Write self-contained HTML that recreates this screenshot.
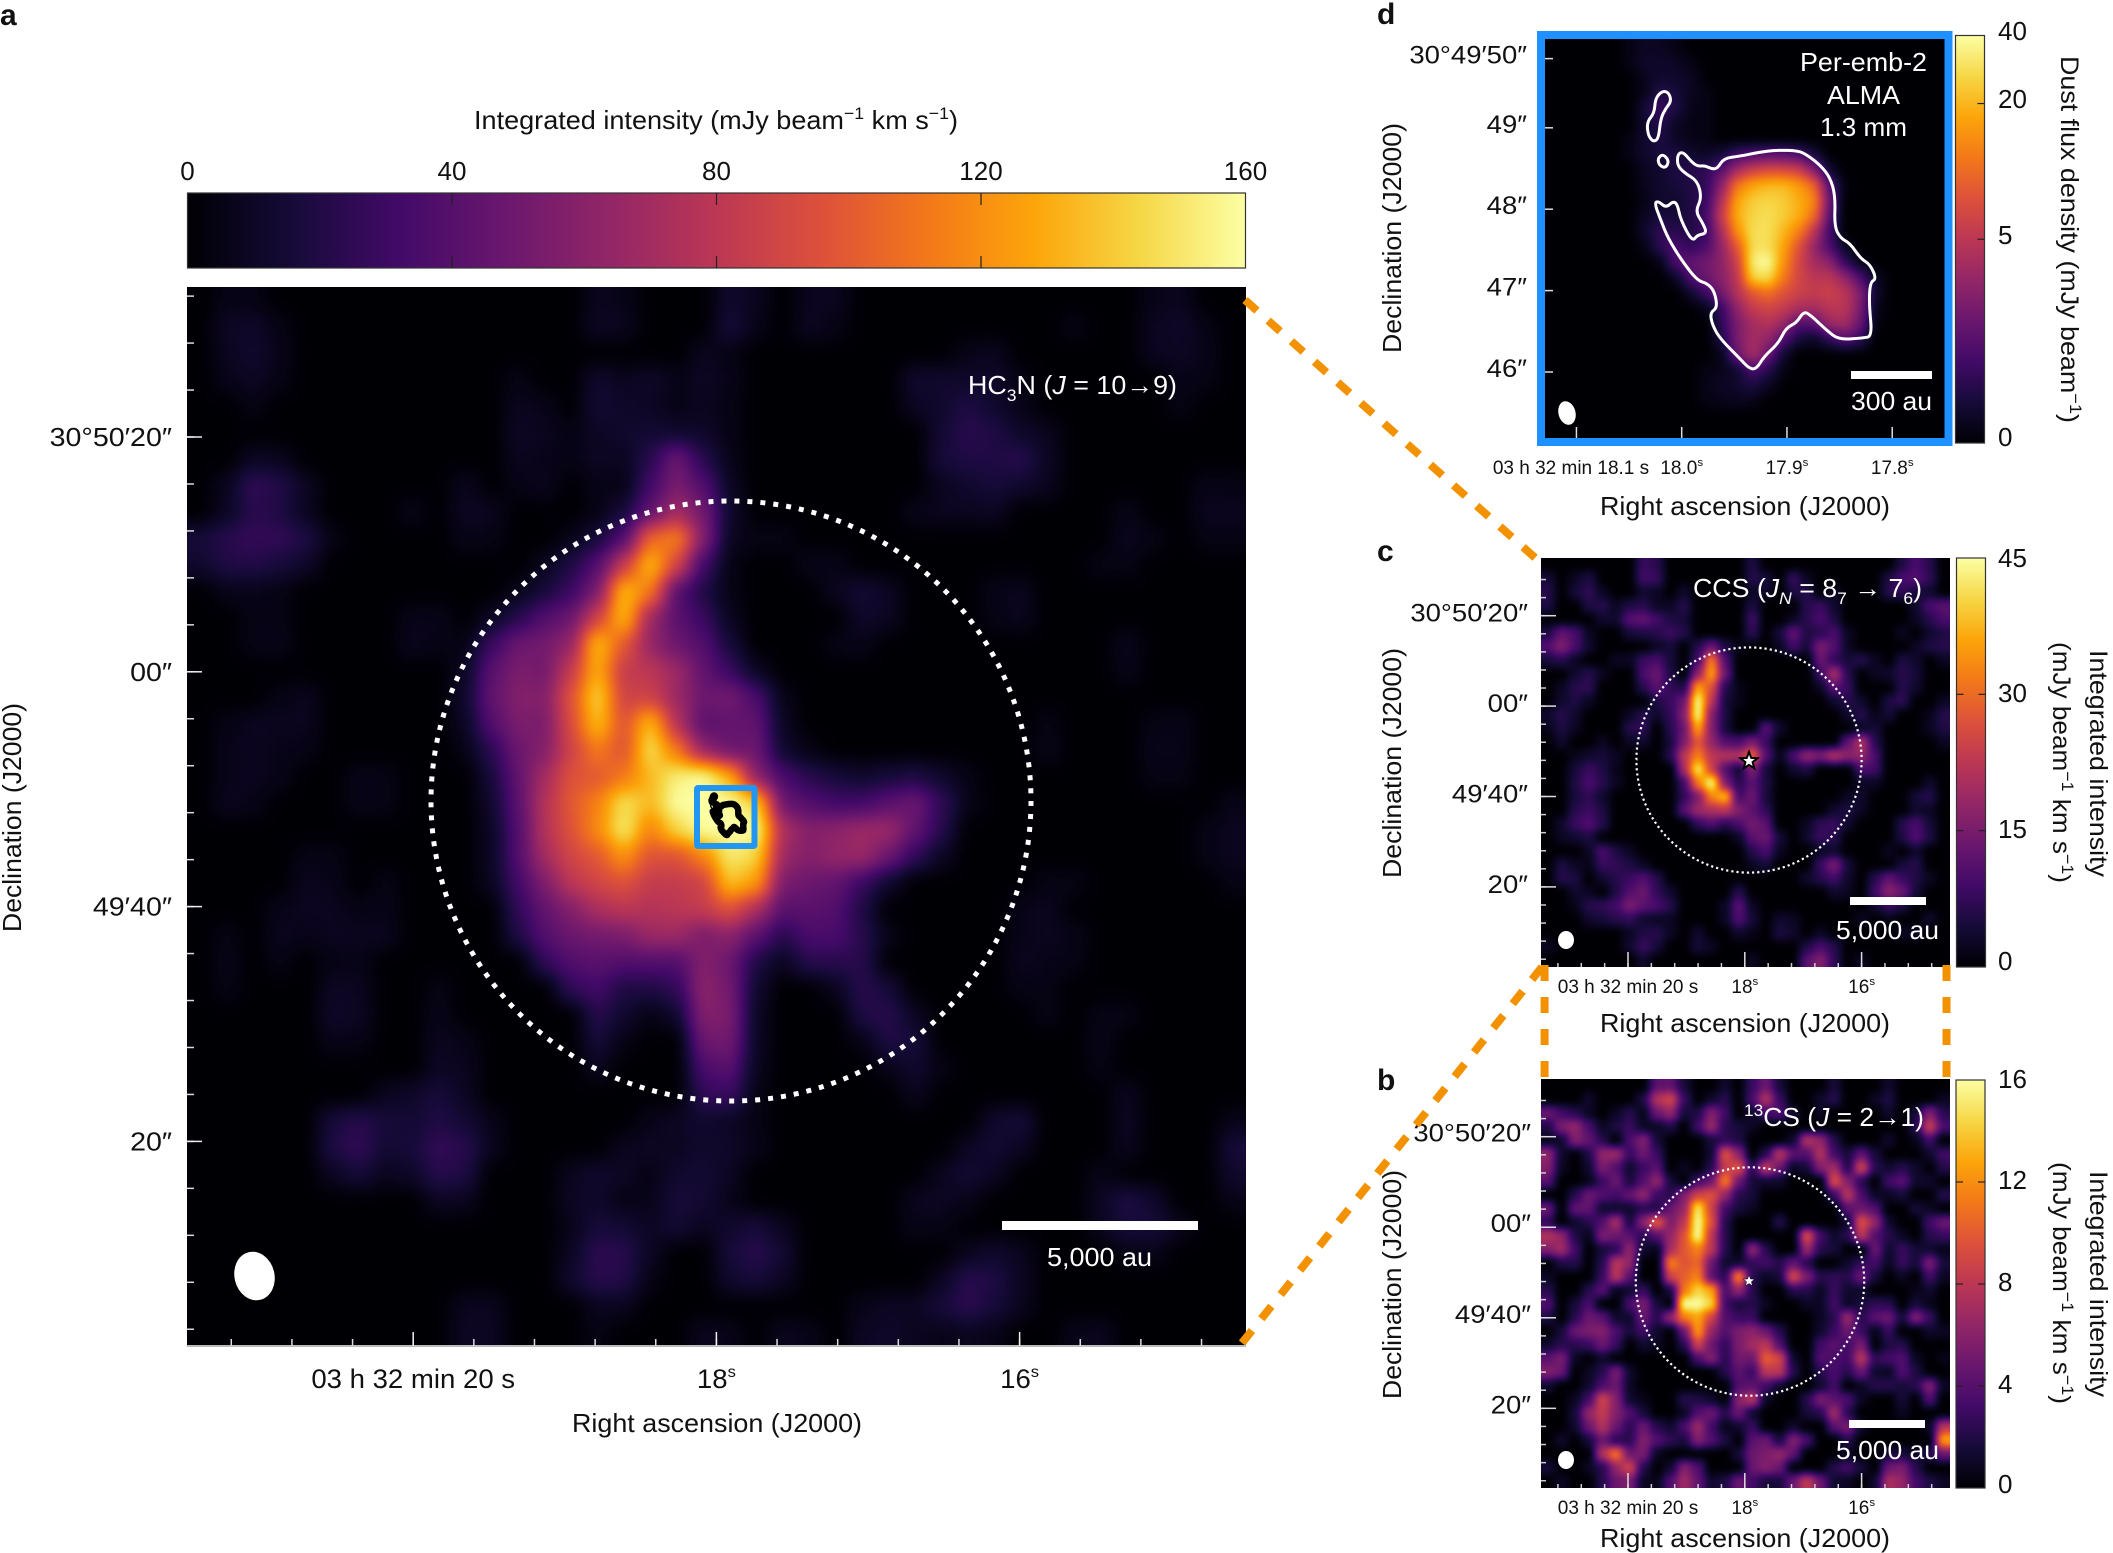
<!DOCTYPE html>
<html lang="en">
<head>
<meta charset="utf-8">
<title>Per-emb-2 molecular streamer maps</title>
<style>
html,body{margin:0;padding:0;background:#fff;}
svg{display:block;font-family:"Liberation Sans",sans-serif;}
text{fill:#111;}
.w{fill:#fff;}
.panel-letter{font-weight:bold;font-size:30px;}
</style>
</head>
<body>
<svg id="figure" width="2113" height="1553" viewBox="0 0 2113 1553">
<defs id="defs">
<clipPath id="clip-a"><rect x="187" y="287" width="1059" height="1059"/></clipPath>
<clipPath id="clip-b"><rect x="1541" y="1079" width="409" height="409"/></clipPath>
<clipPath id="clip-c"><rect x="1541" y="558" width="409" height="409"/></clipPath>
<clipPath id="clip-d"><rect x="1545" y="39" width="400" height="400"/></clipPath>
</defs>

<text class="panel-letter" x="0" y="25">a</text>
<text class="panel-letter" x="1377" y="24">d</text>
<text class="panel-letter" x="1377" y="561">c</text>
<text class="panel-letter" x="1377" y="1090">b</text>

<!-- heatmaps -->
<rect x="187" y="287" width="1059" height="1059" fill="#000004"/>
<rect x="1541" y="1079" width="409" height="409" fill="#000004"/>
<rect x="1541" y="558" width="409" height="409" fill="#000004"/>
<rect x="1545" y="39" width="400" height="400" fill="#000004"/>
<g clip-path="url(#clip-a)"><g id="heat-a"></g></g>
<g clip-path="url(#clip-b)"><g id="heat-b"></g></g>
<g clip-path="url(#clip-c)"><g id="heat-c"></g></g>
<g clip-path="url(#clip-d)"><g id="heat-d"></g></g>

<g id="overlays"></g>
<g id="axes"></g>

<!-- colorbar titles and axis titles -->
<text x="474" y="129" font-size="26" textLength="484" lengthAdjust="spacingAndGlyphs">Integrated intensity (mJy beam<tspan dy="-10" font-size="17">−1</tspan><tspan dy="10"> km s</tspan><tspan dy="-10" font-size="17">−1</tspan><tspan dy="10">)</tspan></text>
<text x="572" y="1432" font-size="26" textLength="290" lengthAdjust="spacingAndGlyphs">Right ascension (J2000)</text>
<text transform="translate(21,932) rotate(-90)" font-size="26" textLength="229" lengthAdjust="spacingAndGlyphs">Declination (J2000)</text>
<text x="1600" y="515" font-size="26" textLength="290" lengthAdjust="spacingAndGlyphs">Right ascension (J2000)</text>
<text transform="translate(1401,353) rotate(-90)" font-size="26" textLength="230" lengthAdjust="spacingAndGlyphs">Declination (J2000)</text>
<text x="1600" y="1032" font-size="26" textLength="290" lengthAdjust="spacingAndGlyphs">Right ascension (J2000)</text>
<text transform="translate(1401,878) rotate(-90)" font-size="26" textLength="230" lengthAdjust="spacingAndGlyphs">Declination (J2000)</text>
<text x="1600" y="1547" font-size="26" textLength="290" lengthAdjust="spacingAndGlyphs">Right ascension (J2000)</text>
<text transform="translate(1401,1399) rotate(-90)" font-size="26" textLength="229" lengthAdjust="spacingAndGlyphs">Declination (J2000)</text>
<text transform="translate(2061,56) rotate(90)" font-size="25" textLength="367" lengthAdjust="spacingAndGlyphs">Dust flux density (mJy beam<tspan dy="-9" font-size="17">−1</tspan><tspan dy="9">)</tspan></text>
<text transform="translate(2090,650) rotate(90)" font-size="25" textLength="227" lengthAdjust="spacingAndGlyphs">Integrated intensity</text>
<text transform="translate(2053,642) rotate(90)" font-size="25" textLength="241" lengthAdjust="spacingAndGlyphs">(mJy beam<tspan dy="-9" font-size="17">−1</tspan><tspan dy="9"> km s</tspan><tspan dy="-9" font-size="17">−1</tspan><tspan dy="9">)</tspan></text>
<text transform="translate(2090,1171) rotate(90)" font-size="25" textLength="226" lengthAdjust="spacingAndGlyphs">Integrated intensity</text>
<text transform="translate(2053,1162) rotate(90)" font-size="25" textLength="242" lengthAdjust="spacingAndGlyphs">(mJy beam<tspan dy="-9" font-size="17">−1</tspan><tspan dy="9"> km s</tspan><tspan dy="-9" font-size="17">−1</tspan><tspan dy="9">)</tspan></text>

<!-- annotations inside panels -->
<text class="w" x="968" y="394" font-size="26" textLength="209" lengthAdjust="spacingAndGlyphs">HC<tspan dy="7" font-size="17">3</tspan><tspan dy="-7">N (</tspan><tspan font-style="italic">J</tspan> = 10→9)</text>
<rect x="1002" y="1221" width="196" height="9" fill="#fff"/>
<text class="w" x="1047" y="1266" font-size="26" textLength="105" lengthAdjust="spacingAndGlyphs">5,000 au</text>
<ellipse cx="254.5" cy="1276" rx="20" ry="24.5" fill="#fff" transform="rotate(-14 254.5 1276)"/>

<text class="w" x="1800" y="71" font-size="26" textLength="127" lengthAdjust="spacingAndGlyphs">Per-emb-2</text>
<text class="w" x="1827" y="104" font-size="26" textLength="73" lengthAdjust="spacingAndGlyphs">ALMA</text>
<text class="w" x="1820" y="136" font-size="26" textLength="87" lengthAdjust="spacingAndGlyphs">1.3 mm</text>
<rect x="1851" y="371" width="81" height="8" fill="#fff"/>
<text class="w" x="1851" y="410" font-size="26" textLength="81" lengthAdjust="spacingAndGlyphs">300 au</text>
<ellipse cx="1567" cy="413" rx="8.5" ry="12" fill="#fff" transform="rotate(-15 1567 413)"/>

<text class="w" x="1693" y="597" font-size="26" textLength="229" lengthAdjust="spacingAndGlyphs">CCS (<tspan font-style="italic">J</tspan><tspan dy="7" font-size="17" font-style="italic">N</tspan><tspan dy="-7"> = 8</tspan><tspan dy="7" font-size="17">7</tspan><tspan dy="-7"> → 7</tspan><tspan dy="7" font-size="17">6</tspan><tspan dy="-7">)</tspan></text>
<rect x="1850" y="897" width="76" height="8" fill="#fff"/>
<text class="w" x="1836" y="939" font-size="26" textLength="103" lengthAdjust="spacingAndGlyphs">5,000 au</text>
<ellipse cx="1566" cy="940" rx="8" ry="9" fill="#fff"/>

<text class="w" x="1744" y="1126" font-size="26" textLength="180" lengthAdjust="spacingAndGlyphs"><tspan dy="-10" font-size="17">13</tspan><tspan dy="10">CS (</tspan><tspan font-style="italic">J</tspan> = 2→1)</text>
<rect x="1849" y="1420" width="76" height="8" fill="#fff"/>
<text class="w" x="1836" y="1459" font-size="26" textLength="103" lengthAdjust="spacingAndGlyphs">5,000 au</text>
<ellipse cx="1566" cy="1460" rx="8" ry="9" fill="#fff"/>

<!-- zoom connectors -->
<g stroke="#f39200" stroke-width="8" fill="none">
<line x1="1245" y1="300" x2="1541" y2="563" stroke-dasharray="16 15"/>
<line x1="1242" y1="1343" x2="1542" y2="967" stroke-dasharray="16 15"/>
<line x1="1544.6" y1="965" x2="1544.6" y2="1077" stroke-dasharray="16 16"/>
<line x1="1946.5" y1="965" x2="1946.5" y2="1077" stroke-dasharray="16 16"/>
</g>
</svg>

<script>
/* ---------- colour scale (inferno) ---------- */
const infernoR = [0, 22, 66, 106, 147, 188, 221, 243, 252, 246, 252];
const infernoG = [0, 11, 10, 23, 38, 55, 81, 120, 165, 215, 255];
const infernoB = [4, 57, 104, 110, 103, 84, 58, 25, 10, 70, 164];

/* ---------- heatmap levels: percent of each colour bar's full range ---------- */
const panelALevels = [
[0,3,3,0,0,0,0,0,0,0,0,0,0,0,0,5,4,0,0,0,8,5,0,5,5,0,0,0,0,0,0,0,0,0,0,0,4,5,0,0],
[0,6,7,3,0,0,0,0,0,0,0,0,0,0,0,6,5,0,0,0,10,4,0,6,3,0,0,0,0,0,0,0,0,3,0,0,5,7,3,0],
[0,5,8,4,0,0,0,0,0,0,0,0,0,0,0,0,0,0,0,5,3,0,0,0,0,0,0,0,0,4,5,0,0,0,0,0,5,6,4,0],
[0,4,6,3,0,0,0,0,0,0,0,0,3,0,0,8,5,7,4,6,4,0,0,0,0,0,0,8,8,7,7,3,0,0,0,0,0,4,3,0],
[0,0,3,0,0,0,0,0,0,0,0,0,5,4,0,9,7,6,3,5,3,0,0,0,0,0,0,6,8,12,8,4,0,0,0,0,0,3,0,0],
[0,0,0,0,0,0,0,0,0,0,0,0,6,5,3,6,8,9,8,7,3,0,0,0,0,0,0,0,9,14,12,7,5,0,0,0,0,0,0,0],
[0,0,6,5,0,0,0,0,0,0,0,0,5,4,3,6,5,14,30,14,4,0,0,0,0,0,0,0,10,12,12,14,6,0,0,0,0,0,0,0],
[0,5,16,13,6,0,0,0,0,0,5,0,3,5,0,4,3,20,34,24,6,0,0,0,0,0,0,0,5,8,10,8,5,0,0,0,0,0,4,3],
[0,6,14,12,5,0,0,0,4,0,6,5,0,0,0,3,10,28,44,32,8,0,0,0,0,0,0,4,5,5,6,0,0,0,0,4,0,0,5,5],
[10,14,17,16,12,3,0,0,0,0,4,3,0,0,4,10,24,66,72,36,5,3,3,0,0,0,0,0,0,0,0,0,0,0,0,5,3,0,3,3],
[8,12,13,10,7,0,0,0,0,0,0,0,0,5,12,24,52,85,56,20,3,0,0,4,4,0,0,0,0,0,0,0,0,0,3,3,0,0,0,0],
[0,4,4,3,0,0,0,0,0,0,0,0,4,10,18,34,85,70,25,12,3,0,0,0,5,9,6,0,0,0,4,5,0,0,0,0,0,0,0,0],
[0,0,3,3,0,0,0,0,4,4,0,6,14,24,30,55,85,42,26,18,5,0,0,0,0,7,6,0,0,0,3,5,0,0,0,0,0,0,0,0],
[0,0,3,4,0,0,0,0,5,3,3,18,30,32,40,85,62,40,30,24,10,0,0,0,3,4,0,0,0,0,0,0,0,0,0,5,0,0,0,0],
[0,0,0,0,0,0,0,0,0,0,6,26,34,32,52,82,52,50,42,28,18,6,0,0,0,0,0,0,0,0,0,0,0,0,0,4,0,0,0,0],
[0,0,0,3,5,0,0,0,0,0,8,28,36,36,60,90,55,55,42,30,32,22,4,0,0,0,0,0,0,0,0,0,0,0,0,0,0,0,0,0],
[0,3,5,5,5,0,0,0,0,0,6,24,34,34,58,85,60,85,48,26,28,28,6,0,0,0,0,0,0,0,0,0,3,0,0,0,3,4,0,0],
[0,4,5,4,3,0,0,0,0,0,3,15,30,36,55,70,60,92,70,40,30,30,8,3,0,0,0,0,0,0,0,0,4,0,0,0,4,4,0,0],
[0,4,5,4,0,0,4,3,0,0,0,10,28,44,60,62,70,84,96,100,82,38,22,14,10,8,10,12,8,3,0,0,0,0,0,0,3,3,0,0],
[0,5,4,0,0,0,4,3,0,0,0,8,26,48,62,72,92,84,100,100,100,90,30,24,20,20,26,30,16,4,0,0,0,0,0,0,0,0,0,4],
[0,0,0,0,0,0,0,0,0,0,0,6,24,48,60,74,95,72,90,100,100,100,46,36,38,42,42,28,14,0,0,0,0,0,0,0,0,0,3,5],
[0,0,0,0,3,3,0,0,0,0,0,6,24,44,56,62,76,60,60,72,95,90,42,36,40,42,30,16,6,0,0,0,0,0,0,0,0,0,3,5],
[0,0,0,0,5,4,0,3,0,0,0,5,20,35,50,56,60,52,52,55,86,78,34,30,28,18,8,0,0,0,0,0,3,3,0,0,0,0,0,3],
[0,0,0,4,5,5,3,4,0,0,0,0,16,28,36,46,50,48,50,52,60,46,26,26,24,12,0,0,0,0,0,4,5,0,0,0,0,0,0,0],
[0,3,0,5,4,5,5,5,0,0,0,0,12,24,30,32,34,42,42,34,38,26,14,22,22,14,4,0,0,0,0,4,5,4,0,0,0,0,0,0],
[0,4,0,3,0,3,4,0,0,0,0,0,0,16,24,26,24,24,24,36,30,12,5,14,14,14,0,0,0,0,0,5,4,3,0,0,0,0,0,0],
[0,3,0,0,0,6,5,0,0,3,0,0,0,0,16,20,12,12,16,38,32,8,0,0,5,14,10,0,0,0,0,3,3,0,0,0,0,0,0,0],
[0,0,0,0,0,7,6,0,0,4,0,0,0,0,0,14,8,3,8,36,34,6,0,0,0,12,14,6,0,0,0,0,3,0,3,3,0,0,0,0],
[0,0,0,0,0,4,3,0,0,5,4,0,0,0,0,10,3,0,0,30,32,6,0,0,0,3,12,10,0,0,0,0,0,0,4,0,0,0,0,0],
[0,0,0,0,0,0,0,0,0,6,5,0,0,0,0,5,0,0,0,22,26,5,0,0,0,0,4,8,3,0,0,0,0,0,3,0,0,0,0,0],
[0,0,0,0,0,0,0,5,7,10,6,0,0,0,0,0,0,0,0,16,18,3,0,0,0,0,0,5,0,0,0,0,0,0,0,5,0,0,0,0],
[0,0,0,0,0,10,14,10,9,12,9,4,0,0,0,0,0,4,6,8,6,3,0,0,0,0,0,0,0,0,8,10,0,0,0,6,0,0,0,4],
[0,0,0,0,0,12,16,9,10,16,14,5,0,0,0,0,5,6,5,8,7,4,0,0,0,0,0,0,0,6,9,6,0,0,0,5,0,0,0,10],
[0,0,0,0,0,6,10,5,7,14,12,0,0,0,5,8,6,3,8,9,6,0,0,0,0,0,0,0,5,9,6,0,0,0,4,0,0,0,0,8],
[0,0,0,0,0,0,0,0,0,6,5,0,0,0,6,7,3,4,10,9,4,0,0,0,0,0,0,5,6,4,0,0,0,0,6,12,8,0,0,4],
[0,0,0,0,0,0,0,0,0,0,0,0,0,0,4,10,9,6,9,5,8,10,5,0,0,0,0,4,3,0,0,0,0,0,5,10,10,5,0,0],
[0,0,0,0,0,0,0,0,0,0,0,0,0,0,6,15,14,6,0,0,10,14,9,0,0,0,0,0,0,5,8,5,0,0,0,3,4,0,0,0],
[0,0,0,0,0,0,0,0,0,0,0,0,0,0,8,14,13,3,0,0,8,10,6,0,0,0,0,0,6,14,12,6,0,0,0,0,0,0,0,0],
[0,0,0,0,0,0,0,0,0,0,5,5,0,0,0,5,5,0,0,0,0,0,0,0,0,4,6,6,10,15,10,5,0,0,0,0,0,0,0,0],
[0,0,0,0,0,0,0,0,0,0,6,6,0,0,0,3,0,0,0,5,4,0,5,4,0,6,7,5,4,5,4,0,0,4,5,0,0,0,0,0]
];

const panelCLevels = [
[0,0,0,0,0,0,0,18,14,0,0,0,0,0,0,12,0,0,0,0,0,0,0,0,0,0,12,22,14,0],
[10,0,6,12,0,0,0,20,18,0,0,0,0,0,0,14,10,0,18,6,0,0,0,0,0,12,22,24,16,0],
[14,0,10,16,6,0,0,8,6,0,8,0,0,0,0,6,8,0,12,14,0,6,0,0,0,14,16,10,8,0],
[12,0,0,12,14,6,12,14,6,6,14,0,0,0,0,12,0,0,0,14,18,8,0,0,0,0,0,8,22,26],
[0,0,0,0,8,8,25,28,20,12,10,0,0,0,0,20,0,0,6,14,22,12,0,0,0,0,0,6,14,22],
[12,28,22,6,0,0,10,12,14,18,14,0,0,0,0,16,0,10,28,12,14,22,6,0,0,0,6,0,8,12],
[24,36,22,8,0,0,0,0,6,10,0,14,30,12,4,0,0,6,20,10,34,24,6,0,0,0,0,6,12,14],
[10,14,6,0,0,6,6,18,22,10,0,20,72,24,0,0,0,0,0,0,30,16,10,14,6,0,12,8,0,6],
[0,0,8,14,6,0,0,22,30,12,0,38,80,30,0,0,0,0,0,0,18,46,14,0,6,8,14,10,0,0],
[0,6,14,16,0,0,0,14,26,16,12,80,60,14,4,0,0,0,0,0,6,26,18,0,0,0,14,8,0,0],
[0,8,12,6,0,0,0,0,12,18,30,100,50,10,4,0,0,0,0,0,0,8,14,8,0,12,16,0,0,6],
[8,14,8,0,0,0,6,14,8,16,36,100,36,12,0,0,0,0,0,0,0,0,8,14,4,10,0,0,4,14],
[4,12,6,0,0,0,14,16,0,14,30,80,36,10,0,0,26,8,0,0,0,0,0,6,10,0,0,0,6,12],
[0,8,0,0,6,0,6,8,0,10,34,62,40,24,22,34,18,0,0,0,0,0,28,48,14,0,0,0,0,6],
[0,0,4,8,10,6,0,0,0,14,50,72,50,48,48,65,25,4,22,40,34,48,38,40,22,0,0,0,0,0],
[0,0,10,18,12,4,0,0,0,0,45,95,55,24,8,36,10,0,8,12,0,0,0,22,20,0,0,0,0,0],
[0,0,12,22,14,6,0,0,0,0,20,70,100,34,14,26,12,0,0,0,0,0,0,6,6,0,0,0,8,0],
[0,0,10,16,8,0,0,0,0,0,16,34,72,85,20,30,10,0,0,0,0,0,6,8,0,0,0,10,14,0],
[0,0,14,18,12,0,0,0,0,0,26,42,46,50,36,26,16,0,0,0,0,8,12,6,0,0,0,8,6,0],
[0,8,18,24,14,0,0,0,0,0,0,16,24,14,22,32,26,0,0,6,16,18,8,0,0,0,14,22,10,0],
[0,6,8,12,0,0,0,0,0,0,0,0,0,0,6,26,30,10,0,8,18,14,0,0,0,0,12,24,12,0],
[0,0,0,6,22,12,6,0,0,0,0,0,0,0,0,14,22,6,0,0,6,8,0,0,0,6,0,8,0,0],
[0,12,6,4,18,16,12,6,0,0,0,0,0,0,0,6,10,0,0,0,18,34,10,0,0,0,10,14,0,0],
[0,14,12,0,8,14,18,24,14,0,0,0,0,0,0,0,0,0,0,8,14,20,8,0,14,28,18,12,6,0],
[0,0,8,6,0,12,24,30,16,8,0,0,0,0,14,0,0,0,0,0,0,8,6,0,20,38,30,10,0,0],
[0,0,4,14,16,20,34,26,22,14,0,0,0,6,26,6,0,0,0,0,0,0,0,0,8,18,12,0,0,0],
[0,0,0,8,10,14,16,8,6,6,0,0,0,6,24,10,0,8,6,0,0,0,0,6,0,4,0,0,8,0],
[0,0,0,0,0,0,6,12,14,6,0,8,0,0,8,4,0,12,8,0,6,0,0,0,0,0,6,6,0,0],
[6,0,0,0,0,0,8,18,10,0,0,10,6,0,0,0,0,0,0,12,22,14,0,0,0,0,0,0,0,0],
[0,0,0,0,0,0,0,8,0,0,0,0,0,0,0,6,0,0,0,26,36,16,0,6,0,0,0,0,0,0]
];

const panelBLevels = [
[0,0,0,0,0,0,0,0,26,28,10,0,0,8,0,18,30,10,0,0,0,10,0,0,0,8,0,0,0,0],
[0,0,0,8,0,0,0,12,48,56,18,0,8,14,0,22,48,18,0,0,8,14,0,0,6,12,0,0,0,6],
[30,20,14,6,0,6,14,4,30,40,10,12,36,20,0,8,20,24,8,0,6,0,0,0,0,8,0,10,36,14],
[12,34,40,22,6,12,18,6,6,12,0,20,42,14,10,6,0,0,0,0,0,0,0,0,0,0,0,14,54,22],
[4,8,36,28,14,0,22,36,10,0,0,0,10,16,12,0,0,0,8,48,40,14,0,0,0,8,0,4,20,0],
[40,8,0,12,40,42,18,30,18,0,0,0,8,60,38,0,14,50,26,24,48,20,10,28,10,0,0,0,8,20],
[36,6,0,8,34,24,8,18,26,0,6,0,14,52,60,14,52,30,6,10,36,44,12,56,14,8,14,8,0,14],
[26,0,0,4,18,30,10,24,40,10,0,20,30,72,30,10,8,8,0,0,0,60,36,14,0,20,26,8,8,0],
[0,0,14,30,24,20,28,40,18,14,36,55,60,40,14,10,0,0,0,0,0,18,50,22,6,6,10,0,0,14],
[30,0,28,28,8,8,8,14,12,30,40,95,55,20,10,6,0,0,0,0,0,0,26,30,24,0,0,10,6,0],
[16,0,8,14,24,46,10,38,64,34,50,100,60,14,0,0,0,14,0,0,0,0,8,60,40,8,0,0,20,30],
[48,40,12,4,34,30,26,14,24,40,60,100,50,14,0,0,0,0,0,60,20,8,14,50,24,14,6,0,14,18],
[36,44,20,0,10,14,40,8,4,45,62,72,50,14,0,40,14,0,0,42,14,10,0,0,30,8,18,10,8,4],
[0,12,14,0,14,50,40,0,0,72,60,66,30,8,8,16,20,14,28,14,0,0,8,16,20,6,18,10,34,10],
[6,0,0,0,18,50,26,0,0,55,64,72,26,14,75,14,6,10,58,34,14,16,14,30,10,0,6,0,20,6],
[14,0,0,14,26,4,8,18,0,10,70,90,80,22,40,14,0,0,14,14,6,18,8,8,0,0,0,4,8,0],
[24,0,10,22,0,0,22,34,10,0,100,100,90,20,10,14,6,0,0,6,6,20,6,10,16,14,0,10,4,0],
[12,0,14,30,26,8,8,30,14,40,70,80,55,24,18,18,0,0,0,0,6,14,42,14,26,30,10,36,18,0],
[0,10,30,34,36,22,10,20,8,0,30,78,40,24,34,38,30,14,0,0,8,18,30,18,4,18,0,0,8,6],
[8,14,14,18,30,18,0,8,6,0,14,55,30,16,34,44,50,24,0,0,20,26,20,34,0,12,14,0,0,0],
[26,34,6,0,8,0,0,0,0,0,0,22,36,14,32,30,64,56,8,0,24,22,20,50,16,20,24,6,0,4],
[36,30,0,6,14,34,8,0,0,0,0,0,0,14,26,18,50,50,14,0,14,22,14,30,8,6,24,12,0,0],
[8,0,0,8,22,30,6,0,0,0,0,0,0,0,24,26,20,8,0,0,8,20,0,6,14,14,10,14,36,6],
[0,0,6,20,56,36,8,4,0,0,14,12,8,0,38,50,6,0,0,14,34,26,22,6,0,0,10,0,24,0],
[0,0,10,40,52,36,24,10,0,0,6,24,30,14,30,8,0,0,0,10,14,44,14,0,0,0,6,0,0,0],
[0,0,8,30,48,30,14,30,14,8,22,42,20,4,8,18,0,0,8,0,0,26,34,8,0,0,0,0,6,50],
[0,8,0,10,30,14,14,36,24,16,10,36,24,12,0,26,30,10,36,22,0,0,14,0,0,0,0,0,0,80],
[0,0,0,0,48,70,30,34,6,0,0,0,0,0,10,30,34,40,28,0,0,0,6,0,0,10,10,6,14,30],
[10,0,0,6,14,40,56,14,0,8,36,24,0,0,0,30,36,30,0,0,0,14,20,10,0,30,34,14,0,0],
[0,6,0,0,14,30,34,6,4,24,44,28,8,12,30,20,10,10,30,52,30,8,6,0,8,46,40,20,12,6]
];

const panelDLevels = [
[0,0,0,0,0,3,6,5,3,0,0,0,0,0,0,0,0,0,0,0,0,0,0,0,0,0],
[0,0,0,0,0,3,7,7,6,3,0,0,0,0,0,0,0,0,0,0,0,0,0,0,0,0],
[0,0,0,0,0,0,5,8,8,6,0,0,0,0,0,0,0,0,0,0,0,0,0,0,0,0],
[0,0,0,0,0,0,4,14,10,5,3,0,0,0,0,0,0,0,0,0,0,0,0,0,0,0],
[0,0,0,0,0,0,10,18,12,4,3,0,0,0,0,0,0,0,0,0,0,0,0,0,0,0],
[0,0,0,0,0,0,8,14,6,3,3,0,0,0,0,0,0,0,0,0,0,0,0,0,0,0],
[0,0,0,0,0,3,8,12,6,4,3,0,0,0,0,0,0,0,0,0,0,0,0,0,0,0],
[0,0,0,0,0,3,8,10,12,8,6,10,20,24,26,26,22,10,0,0,0,0,0,0,0,0],
[0,0,0,0,0,0,6,8,12,14,16,26,44,54,58,58,54,36,8,0,0,0,0,0,0,0],
[0,0,0,0,0,0,5,8,10,12,16,38,70,80,84,84,78,66,24,2,0,0,0,0,0,0],
[0,0,0,0,0,0,3,8,8,12,18,48,80,88,90,88,82,74,30,0,0,0,0,0,0,0],
[0,0,0,0,0,0,6,10,10,12,20,54,82,90,92,88,82,68,26,0,0,0,0,0,0,0],
[0,0,0,0,0,0,8,16,14,12,18,46,76,92,92,84,72,50,20,0,0,0,0,0,0,0],
[0,0,0,0,0,0,3,16,22,16,22,40,62,92,92,80,60,40,22,6,0,0,0,0,0,0],
[0,0,0,0,0,0,0,3,24,28,32,38,54,96,100,76,56,44,38,16,4,0,0,0,0,0],
[0,0,0,0,0,0,0,0,6,24,30,38,50,90,92,70,56,50,50,40,22,6,0,0,0,0],
[0,0,0,0,0,0,0,0,0,8,20,32,48,62,68,60,54,52,54,50,36,8,0,0,0,0],
[0,0,0,0,0,0,0,0,0,0,4,18,40,52,56,52,46,44,50,50,34,4,0,0,0,0],
[0,0,0,0,0,0,0,0,0,0,0,16,34,44,48,42,24,26,42,44,30,2,0,0,0,0],
[0,0,0,0,0,0,0,0,0,0,0,12,34,44,40,24,10,6,16,26,16,0,0,0,0,0],
[0,0,0,0,0,0,0,0,0,0,0,4,30,46,30,8,0,0,0,0,0,0,0,0,0,0],
[0,0,0,0,0,0,0,0,0,0,3,4,8,22,14,3,0,0,0,0,0,0,0,0,0,0],
[0,0,0,0,0,0,0,0,0,0,4,6,8,12,6,0,0,0,0,0,0,0,0,0,0,0],
[0,0,0,0,0,0,0,0,0,0,3,4,5,4,0,0,0,0,0,0,0,0,0,0,0,0],
[0,0,0,0,0,0,0,0,0,0,0,0,0,0,0,0,0,0,0,0,0,0,0,0,0,0],
[0,0,0,0,0,0,0,0,0,0,0,0,0,0,0,0,0,0,0,0,0,0,0,0,0,0]
];

/* ---------- dust continuum contours (RA seconds past 03 h 32 min, Dec arcsec past 30°49′) ---------- */
const contourMainRA = [18.001,17.997,17.991,17.985,17.978,17.971,17.966,17.960,17.945,17.926,17.910,17.889,17.880,17.868,17.859,17.854,17.855,17.849,17.840,17.830,17.821,17.815,17.821,17.822,17.819,17.828,17.851,17.863,17.880,17.885,17.891,17.901,17.908,17.922,17.929,17.936,17.945,17.964,17.971,17.973,17.966,17.969,17.976,17.985,17.999,18.013,18.020,18.026,18.022,18.015,18.008,18.004,18.001,17.990,17.985,17.976,17.980,17.987,17.981,17.985,17.997,18.004,18.004];
const contourMainDec = [48.70,48.68,48.585,48.527,48.535,48.493,48.502,48.626,48.651,48.701,48.726,48.718,48.659,48.535,48.390,48.161,47.787,47.642,47.580,47.393,47.322,47.144,47.102,46.832,46.438,46.417,46.396,46.521,46.728,46.728,46.604,46.541,46.354,46.188,46.035,46.043,46.168,46.417,46.583,46.728,46.791,46.998,47.090,47.123,47.351,47.642,47.870,48.078,48.099,48.016,48.099,48.057,47.870,47.600,47.684,47.704,47.829,47.974,48.140,48.348,48.443,48.535,48.659];
const contourLobe1RA = [18.018,18.012,18.010,18.015,18.020,18.022,18.027,18.032,18.033,18.026,18.025];
const contourLobe1Dec = [49.457,49.428,49.324,49.241,49.116,48.867,48.826,48.909,49.075,49.179,49.365];
const contourLobe2RA = [18.018,18.012,18.015,18.021,18.023];
const contourLobe2Dec = [48.680,48.597,48.506,48.535,48.618];

/* ---------- tick values and labels ---------- */
const wideDecTicks = [80, 60, 40, 20];
const wideDecLabels = ['30°50′20″', '00″', '49′40″', '20″'];
const wideRaTicks = [20, 18, 16];
const wideRaLabels = ['03 h 32 min 20 s', '18', '16'];
const dDecTicks = [49.85, 49, 48, 47, 46];
const dDecLabels = ['30°49′50″', '49″', '48″', '47″', '46″'];
const dRaTicks = [18.1, 18.0, 17.9, 17.8];
const dRaLabels = ['03 h 32 min 18.1 s', '18.0', '17.9', '17.8'];
const barATicks = [0, 40, 80, 120, 160];
const barBTicks = [16, 12, 8, 4, 0];
const barCTicks = [45, 30, 15, 0];
const barDTicks = [40, 20, 5, 0];
const barDPositions = [1, 0.833, 0.5, 0];

/* ---------- helpers ---------- */
const NS = document.documentElement.namespaceURI.replace('1999/xhtml', '2000/svg');
const svg = document.getElementById('figure');
const defs = document.getElementById('defs');
const axes = document.getElementById('axes');
const overlays = document.getElementById('overlays');

function make(tag, parent) {
  const el = document.createElementNS(NS, tag);
  parent.appendChild(el);
  return el;
}
function setAll(el, pairs) {
  for (const k in pairs) el.setAttribute(k, pairs[k]);
}

function addFilter(id, sigma, x, y, w, h) {
  const table = a => a.map(v => (v / 255).toFixed(3)).join(' ');
  const f = make('filter', defs);
  setAll(f, {id: id, filterUnits: 'userSpaceOnUse', x: x - 40, y: y - 40, width: w + 80, height: h + 80, 'color-interpolation-filters': 'sRGB'});
  f.innerHTML = '<feGaussianBlur stdDeviation="' + sigma + '"/><feComponentTransfer>' +
    '<feFuncR type="table" tableValues="' + table(infernoR) + '"/>' +
    '<feFuncG type="table" tableValues="' + table(infernoG) + '"/>' +
    '<feFuncB type="table" tableValues="' + table(infernoB) + '"/></feComponentTransfer>';
}

function drawHeat(id, levels, x0, y0, w, h, sigma) {
  const g = document.getElementById(id);
  addFilter(id + '-f', sigma, x0, y0, w, h);
  g.setAttribute('filter', 'url(#' + id + '-f)');
  const rows = levels.length, cols = levels[0].length;
  const cx = w / cols, cy = h / rows, pad = 40;
  levels.forEach((row, r) => {
    row.forEach((v, c) => {
      const rect = make('rect', g);
      
      
      const gray = Math.round(Math.min(100, Math.max(0, v)) * 2.55);
      const left = x0 + c * cx - (c === 0 ? pad : 0);
      const top = y0 + r * cy - (r === 0 ? pad : 0);
      const right = x0 + (c + 1) * cx + (c === cols - 1 ? pad : 0.5);
      const bottom = y0 + (r + 1) * cy + (r === rows - 1 ? pad : 0.5);
      setAll(rect, {x: left, y: top, width: right - left, height: bottom - top, fill: 'rgb(' + gray + ',' + gray + ',' + gray + ')'});
    });
  });
}

function addLine(x1, y1, x2, y2, color, width) {
  const l = make('line', axes);
  
  
  setAll(l, {x1: x1, y1: y1, x2: x2, y2: y2, stroke: color, 'stroke-width': width});
}

function addText(str, x, y, anchor, size, sup, stretch) {
  const t = make('text', axes);
  
  
  setAll(t, {x: x, y: y, 'text-anchor': anchor, 'font-size': size});
  t.textContent = str;
  if (sup) {
    const s = make('tspan', t);
    setAll(s, {dy: -size * 0.42, 'font-size': size * 0.6});
    s.textContent = sup;
  }
  if (stretch) {
    const len = t.getComputedTextLength() * stretch;
    setAll(t, {textLength: len, lengthAdjust: 'spacingAndGlyphs'});
  }
  return t;
}

function step(a, b, d) { const o = []; for (let v = a; v <= b + 1e-6; v += d) o.push(v); return o; }

/* ---------- axis functions ---------- */
const xA = ra => 716.4 + (18 - ra) * 151.6;
const yA = d => 437 + (80 - d) * 11.74;
const xS = ra => 1744.8 + (18 - ra) * 58.4;
const yC = d => 615.7 + (80 - d) * 4.52;
const yB = d => 1136.7 + (80 - d) * 4.527;
const xD = ra => 1681.7 + (18 - ra) * 1052.6;
const yD = d => 127.8 + (49 - d) * 81.4;

/* ---------- heatmaps ---------- */
drawHeat('heat-a', panelALevels, 187, 287, 1059, 1059, 9.5);
drawHeat('heat-c', panelCLevels, 1541, 558, 409, 409, 4.5);
drawHeat('heat-b', panelBLevels, 1541, 1079, 409, 409, 4.2);
drawHeat('heat-d', panelDLevels, 1545, 39, 400, 400, 6);

/* ---------- panel a ticks ---------- */
addLine(187, 1346, 1246, 1346, '#bbb', 2);
step(4, 92, 4).forEach(d => addLine(187, yA(d), 194, yA(d), '#ddd', 1.5));
wideDecTicks.forEach((d, i) => {
  addLine(187, yA(d), 202, yA(d), '#eee', 1.5);
  addText(wideDecLabels[i], 172, yA(d) + 9, 'end', 26, null, 1.1);
});
step(14.8, 21.2, 0.4).forEach(r => addLine(xA(r), 1346, xA(r), 1339, '#ddd', 1.5));
wideRaTicks.forEach((r, i) => {
  addLine(xA(r), 1346, xA(r), 1332, '#eee', 1.5);
  addText(wideRaLabels[i], xA(r), 1388, 'middle', 26.5, i ? 's' : null, 1.04);
});

/* ---------- panels b and c ticks ---------- */
function smallPanel(yFn, bottom, labelRight, labelOffset, xLabelY) {
  step(4, 88, 4).forEach(d => addLine(1541, yFn(d), 1546, yFn(d), '#ccc', 1.5));
  wideDecTicks.forEach((d, i) => {
    addLine(1541, yFn(d), 1556, yFn(d), '#ddd', 1.5);
    addText(wideDecLabels[i], labelRight, yFn(d) + labelOffset, 'end', 25, null, 1.1);
  });
  step(14.8, 21.2, 0.4).forEach(r => addLine(xS(r), bottom, xS(r), bottom - 4, '#ccc', 1.5));
  wideRaTicks.forEach((r, i) => {
    addLine(xS(r), bottom, xS(r), bottom - 15, '#ddd', 1.5);
    addText(wideRaLabels[i], xS(r), xLabelY, 'middle', 19, i ? 's' : null);
  });
}
smallPanel(yC, 967, 1528, 6, 993);
smallPanel(yB, 1488, 1531, 5, 1514);

/* ---------- panel d ticks ---------- */
dDecTicks.forEach((d, i) => {
  addLine(1545, yD(d), 1553, yD(d), '#ddd', 1.5);
  addText(dDecLabels[i], 1527, yD(d) + 5, 'end', 25, null, 1.1);
});
dRaTicks.forEach((r, i) => {
  addLine(xD(r), 438, xD(r), 427, '#ddd', 1.5);
  addText(dRaLabels[i], i ? xD(r) : 1571, 474, 'middle', 19, i ? 's' : null);
});

/* ---------- overlays: circles, contours, box, stars ---------- */
function circle(name, cx, cy, r, w, dash) {
  const c = make('circle', overlays);
  
  
  setAll(c, {cx: cx, cy: cy, r: r, fill: 'none', stroke: '#fff', 'stroke-width': w, 'stroke-dasharray': dash});
}
circle('panel-a-field-of-view', 731, 801, 300, 5, '5 8');
circle('panel-c-field-of-view', 1749, 760, 112.6, 2.2, '2.2 3');
circle('panel-b-field-of-view', 1750, 1281.5, 114.2, 2.2, '2.2 3');

function smoothClosed(ra, dec, fx, fy) {
  const pts = ra.map((r, i) => [fx(r), fy(dec[i])]);
  const n = pts.length;
  const mid = (p, q) => [(p[0] + q[0]) / 2, (p[1] + q[1]) / 2];
  let m = mid(pts[n - 1], pts[0]);
  let d = 'M' + m[0].toFixed(2) + ' ' + m[1].toFixed(2);
  for (let i = 0; i < n; i++) {
    m = mid(pts[i], pts[(i + 1) % n]);
    d += 'Q' + pts[i][0].toFixed(2) + ' ' + pts[i][1].toFixed(2) + ' ' + m[0].toFixed(2) + ' ' + m[1].toFixed(2);
  }
  return d + 'Z';
}
const contours = [[contourMainRA, contourMainDec], [contourLobe1RA, contourLobe1Dec], [contourLobe2RA, contourLobe2Dec]];
const boxScale = 57 / 400;
const xBox = ra => 697 + (xD(ra) - 1545) * boxScale;
const yBox = d => 788 + (yD(d) - 39) * boxScale;
contours.forEach(c => {
  const p = make('path', overlays);
  
  
  setAll(p, {d: smoothClosed(c[0], c[1], xD, yD), fill: 'none', stroke: '#fff', 'stroke-width': 3, 'stroke-linejoin': 'round'});
  const q = make('path', overlays);
  
  
  setAll(q, {d: smoothClosed(c[0], c[1], xBox, yBox), fill: 'none', stroke: '#000', 'stroke-width': 6.5, 'stroke-linejoin': 'round'});
});

const boxA = make('rect', overlays);


setAll(boxA, {x: 697, y: 788, width: 57.5, height: 58, fill: 'none', stroke: '#2196f3', 'stroke-width': 6, rx: 1});
const boxD = make('rect', overlays);


setAll(boxD, {x: 1541, y: 35, width: 407.5, height: 407, fill: 'none', stroke: '#1e90ff', 'stroke-width': 8});

function star(name, cx, cy, R, sw) {
  let d = '';
  for (let i = 0; i < 10; i++) {
    const rad = i % 2 ? R * 0.42 : R;
    const a = -Math.PI / 2 + i * Math.PI / 5;
    d += (i ? 'L' : 'M') + (cx + rad * Math.cos(a)).toFixed(2) + ' ' + (cy + rad * Math.sin(a)).toFixed(2);
  }
  const s = make('path', overlays);
  
  
  setAll(s, {d: d + 'Z', fill: '#fff', stroke: '#000', 'stroke-width': sw, 'stroke-linejoin': 'miter'});
}
star('panel-c-protostar', 1749, 761, 9, 2);
star('panel-b-protostar', 1749, 1281, 6, 0.5);

/* ---------- colour bars ---------- */
function gradient(id, x1, y1, x2, y2) {
  const g = make('linearGradient', defs);
  setAll(g, {id: id, x1: x1, y1: y1, x2: x2, y2: y2});
  infernoR.forEach((r, i) => {
    const s = make('stop', g);
    setAll(s, {offset: i / (infernoR.length - 1), 'stop-color': 'rgb(' + r + ',' + infernoG[i] + ',' + infernoB[i] + ')'});
  });
}
gradient('bar-h', 0, 0, 1, 0);
gradient('bar-v', 0, 1, 0, 0);

function barRect(name, x, y, w, h, grad) {
  const r = make('rect', axes);
  
  
  setAll(r, {x: x, y: y, width: w, height: h, fill: 'url(#' + grad + ')', stroke: '#333', 'stroke-width': 1.2});
}
barRect('colorbar-a', 187.5, 193, 1058, 75, 'bar-h');
barTicksA();
function barTicksA() {
  barATicks.forEach(v => {
    const x = 187.5 + v / 160 * 1058;
    if (v > 0 && v < 160) {
      addLine(x, 193, x, 205, '#222', 1.2);
      addLine(x, 268, x, 256, '#222', 1.2);
    }
    addText(String(v), x, 180, 'middle', 26);
  });
}
function verticalBar(name, x, top, bottom, ticks, positions, labelYs, both) {
  barRect(name, x, top, 29, bottom - top, 'bar-v');
  ticks.forEach((v, i) => {
    const y = bottom - positions[i] * (bottom - top);
    if (positions[i] > 0 && positions[i] < 1) {
      addLine(x + 29, y, x + 22, y, '#222', 1.2);
      if (both) addLine(x, y, x + 7, y, '#222', 1.2);
    }
    addText(String(v), 1998, labelYs[i], 'start', 26);
  });
}
verticalBar('colorbar-d', 1955.5, 35.5, 443, barDTicks, barDPositions, [40, 108, 244, 446], false);
verticalBar('colorbar-c', 1956.5, 558, 967, barCTicks, barCTicks.map(v => v / 45), [567, 702, 838, 970], true);
verticalBar('colorbar-b', 1956, 1080, 1488, barBTicks, barBTicks.map(v => v / 16), [1088, 1189, 1291, 1393, 1493], true);
</script>
</body>
</html>
